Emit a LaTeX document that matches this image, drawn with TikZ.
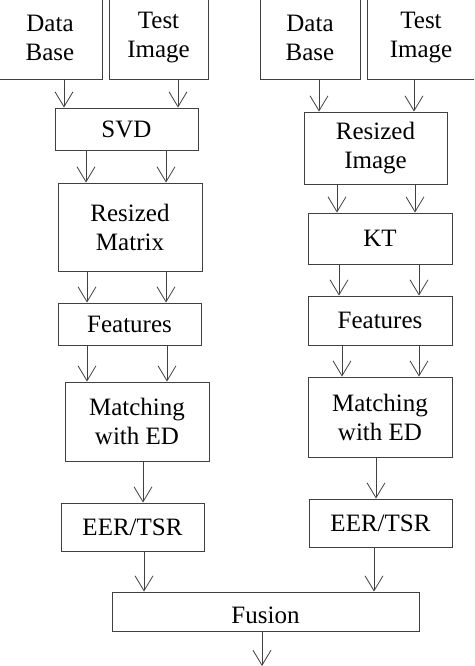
\documentclass[tikz,border=0pt]{standalone}
\usepackage{fontspec}
\setmainfont{Liberation Serif}
\usetikzlibrary{arrows.meta}

\begin{document}
\begin{tikzpicture}[
  x=1pt, y=-1pt,
  font=\fontsize{25}{29}\selectfont,
  stagebox/.style={draw=black!75, line width=0.9pt, align=center, inner sep=0pt},
  arr/.style={-{Straight Barb[length=15pt, width=18pt]}, draw=black!75, line width=0.8pt}
]
\useasboundingbox (0,0) rectangle (474,666);
\clip (0,0) rectangle (474,666);

% left branch
\node[stagebox, minimum width=104pt, minimum height=83pt] (db1)    at (50,37.5)   {Data\\Base};
\node[stagebox, minimum width=99pt,  minimum height=83pt] (ti1)    at (158.5,37.5) {Test\\Image};
\node[stagebox, minimum width=143pt, minimum height=42pt] (svd)    at (126.5,129)  {SVD};
\node[stagebox, minimum width=144pt, minimum height=88pt] (rm)     at (130,227)    {Resized\\Matrix};
\node[stagebox, minimum width=143pt, minimum height=42pt] (feat1)  at (129.5,324)  {Features};
\node[stagebox, minimum width=144pt, minimum height=79pt] (match1) at (137,421.5)  {Matching\\with ED};
\node[stagebox, minimum width=143pt, minimum height=48pt] (eer1)   at (132.5,527)  {EER/TSR};

% right branch
\node[stagebox, minimum width=100pt, minimum height=83pt] (db2)    at (310,37.5)   {Data\\Base};
\node[stagebox, minimum width=108pt, minimum height=83pt] (ti2)    at (421,37.5)   {Test\\Image};
\node[stagebox, minimum width=143pt, minimum height=72pt] (ri)     at (375.5,148)  {Resized\\Image};
\node[stagebox, minimum width=144pt, minimum height=51pt] (kt)     at (380,238.5)  {KT};
\node[stagebox, minimum width=144pt, minimum height=49pt] (feat2)  at (380,320.5)  {Features};
\node[stagebox, minimum width=144pt, minimum height=80pt] (match2) at (380,417)    {Matching\\with ED};
\node[stagebox, minimum width=143pt, minimum height=48pt] (eer2)   at (380.5,523)  {EER/TSR};

% merge
\node[stagebox, minimum width=307pt, minimum height=39pt, text height=24pt, text depth=0pt] (fusion) at (265.5,611.5) {Fusion};
\coordinate (out) at (262,666);

% left arrows
\draw[arr] (64,0 |- db1.south)   -- (64,0 |- svd.north);
\draw[arr] (178,0 |- ti1.south)  -- (178,0 |- svd.north);
\draw[arr] (86,0 |- svd.south)   -- (86,0 |- rm.north);
\draw[arr] (166,0 |- svd.south)  -- (166,0 |- rm.north);
\draw[arr] (87,0 |- rm.south)    -- (87,0 |- feat1.north);
\draw[arr] (166,0 |- rm.south)   -- (166,0 |- feat1.north);
\draw[arr] (87,0 |- feat1.south) -- (87,0 |- match1.north);
\draw[arr] (167,0 |- feat1.south) -- (167,0 |- match1.north);
\draw[arr] (143,0 |- match1.south) -- (143,0 |- eer1.north);
\draw[arr] (144,0 |- eer1.south) -- (144,0 |- fusion.north);

% right arrows
\draw[arr] (319,0 |- db2.south)  -- (319,0 |- ri.north);
\draw[arr] (414,0 |- ti2.south)  -- (414,0 |- ri.north);
\draw[arr] (337,0 |- ri.south)   -- (337,0 |- kt.north);
\draw[arr] (415,0 |- ri.south)   -- (415,0 |- kt.north);
\draw[arr] (339,0 |- kt.south)   -- (339,0 |- feat2.north);
\draw[arr] (419,0 |- kt.south)   -- (419,0 |- feat2.north);
\draw[arr] (342,0 |- feat2.south) -- (342,0 |- match2.north);
\draw[arr] (419,0 |- feat2.south) -- (419,0 |- match2.north);
\draw[arr] (376,0 |- match2.south) -- (376,0 |- eer2.north);
\draw[arr] (374,0 |- eer2.south) -- (374,0 |- fusion.north);

\draw[arr] (out |- fusion.south) -- (out);
\end{tikzpicture}
\end{document}
